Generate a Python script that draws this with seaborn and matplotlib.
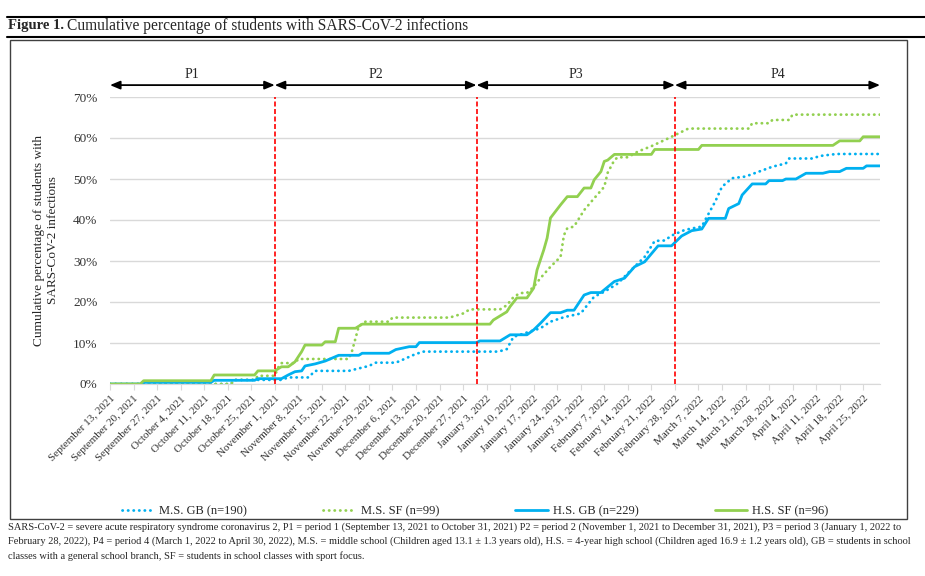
import pandas as pd
import matplotlib.pyplot as plt
from matplotlib.lines import Line2D
from matplotlib.patches import Rectangle
import seaborn as sns

# Cumulative % of students infected (breakpoints)
ms_gb_dates = ["2021-09-13", "2021-10-19", "2021-10-20", "2021-11-03", "2021-11-05", "2021-11-11",
               "2021-11-13", "2021-11-23", "2021-11-26", "2021-11-29", "2021-12-01", "2021-12-07",
               "2021-12-09", "2021-12-12", "2021-12-15", "2022-01-06", "2022-01-08", "2022-01-09",
               "2022-01-11", "2022-01-14", "2022-01-19", "2022-01-22", "2022-01-26", "2022-01-31",
               "2022-02-02", "2022-02-04", "2022-02-07", "2022-02-11", "2022-02-14", "2022-02-16",
               "2022-02-19", "2022-02-22", "2022-02-25", "2022-02-27", "2022-03-03", "2022-03-08",
               "2022-03-09", "2022-03-12", "2022-03-14", "2022-03-17", "2022-03-21", "2022-03-25",
               "2022-03-29", "2022-04-02", "2022-04-03", "2022-04-10", "2022-04-12", "2022-04-17",
               "2022-04-30"]
ms_gb_vals = [0, 0, 1.0, 1.0, 1.6, 1.6,
              3.2, 3.2, 3.8, 4.4, 5.2, 5.2,
              5.9, 7.0, 7.9, 7.9, 8.2, 8.5,
              11.5, 12.3, 13.6, 15.2, 16.3, 17.2,
              19.3, 21.3, 22.5, 24.5, 27.0, 28.6,
              31.0, 34.9, 35.0, 36.2, 37.6, 38.4,
              40.0, 44.5, 48.1, 50.2, 50.6, 51.8,
              53.0, 53.8, 55.0, 55.0, 55.6, 56.1,
              56.1]

ms_sf_dates = ["2021-09-13", "2021-10-19", "2021-10-20", "2021-10-26", "2021-10-27", "2021-11-01",
               "2021-11-02", "2021-11-03", "2021-11-07", "2021-11-08", "2021-11-23", "2021-11-24",
               "2021-11-25", "2021-11-26", "2021-11-28", "2021-12-05", "2021-12-06", "2021-12-23",
               "2021-12-27", "2021-12-29", "2022-01-07", "2022-01-09", "2022-01-11", "2022-01-13",
               "2022-01-15", "2022-01-17", "2022-01-19", "2022-01-22", "2022-01-25", "2022-01-26",
               "2022-01-27", "2022-01-29", "2022-02-01", "2022-02-04", "2022-02-07", "2022-02-08",
               "2022-02-10", "2022-02-11", "2022-02-14", "2022-02-17", "2022-02-21", "2022-02-26",
               "2022-03-01", "2022-03-04", "2022-03-22", "2022-03-23", "2022-03-28", "2022-03-29",
               "2022-04-03", "2022-04-04", "2022-04-30"]
ms_sf_vals = [0, 0, 1.0, 1.0, 2.0, 2.0,
              4.0, 5.1, 5.1, 6.1, 6.1, 8.1,
              11.1, 14.1, 15.2, 15.2, 16.2, 16.2,
              17.2, 18.2, 18.2, 19.2, 21.2, 22.2,
              22.2, 23.7, 25.8, 28.6, 31.0, 36.3,
              38.0, 38.4, 42.4, 45.3, 48.1, 51.5,
              54.6, 55.3, 55.3, 56.7, 58.0, 59.9,
              61.1, 62.3, 62.3, 63.6, 63.6, 64.4,
              64.4, 65.7, 65.7]

hs_gb_dates = ["2021-09-13", "2021-09-22", "2021-09-23", "2021-10-13", "2021-10-14", "2021-10-26",
               "2021-10-27", "2021-11-03", "2021-11-05", "2021-11-07", "2021-11-09", "2021-11-10",
               "2021-11-13", "2021-11-16", "2021-11-18", "2021-11-20", "2021-11-26", "2021-11-27",
               "2021-12-05", "2021-12-07", "2021-12-11", "2021-12-13", "2021-12-14", "2021-12-31",
               "2022-01-01", "2022-01-07", "2022-01-10", "2022-01-15", "2022-01-17", "2022-01-19",
               "2022-01-22", "2022-01-25", "2022-01-27", "2022-01-29", "2022-02-01", "2022-02-03",
               "2022-02-06", "2022-02-10", "2022-02-13", "2022-02-16", "2022-02-19", "2022-02-23",
               "2022-02-27", "2022-03-02", "2022-03-05", "2022-03-08", "2022-03-10", "2022-03-15",
               "2022-03-16", "2022-03-19", "2022-03-20", "2022-03-23", "2022-03-27", "2022-03-28",
               "2022-04-01", "2022-04-02", "2022-04-05", "2022-04-08", "2022-04-13", "2022-04-15",
               "2022-04-18", "2022-04-20", "2022-04-25", "2022-04-26", "2022-04-30"]
hs_gb_vals = [0, 0, 0.4, 0.4, 0.9, 0.9,
              1.3, 1.3, 2.2, 3.0, 3.2, 4.4,
              4.9, 5.6, 6.3, 7.0, 7.0, 7.5,
              7.5, 8.4, 9.1, 9.1, 10.1, 10.1,
              10.5, 10.5, 12.0, 12.0, 13.2, 14.8,
              17.4, 17.4, 18.0, 18.0, 21.7, 22.3,
              22.3, 25.0, 25.8, 28.6, 29.8, 33.7,
              33.7, 36.1, 37.4, 37.8, 40.4, 40.4,
              42.8, 44.0, 46.1, 48.8, 48.8, 49.6,
              49.6, 50.0, 50.0, 51.4, 51.4, 51.8,
              51.8, 52.6, 52.6, 53.2, 53.2]

hs_sf_dates = ["2021-09-13", "2021-09-22", "2021-09-23", "2021-10-13", "2021-10-14", "2021-10-26",
               "2021-10-27", "2021-11-01", "2021-11-03", "2021-11-05", "2021-11-07", "2021-11-09",
               "2021-11-10", "2021-11-15", "2021-11-16", "2021-11-19", "2021-11-20", "2021-11-25",
               "2021-11-27", "2022-01-04", "2022-01-05", "2022-01-07", "2022-01-09", "2022-01-10",
               "2022-01-12", "2022-01-15", "2022-01-17", "2022-01-18", "2022-01-20", "2022-01-21",
               "2022-01-22", "2022-01-25", "2022-01-27", "2022-01-30", "2022-02-01", "2022-02-03",
               "2022-02-04", "2022-02-06", "2022-02-07", "2022-02-08", "2022-02-10", "2022-02-21",
               "2022-02-22", "2022-03-07", "2022-03-08", "2022-04-16", "2022-04-18", "2022-04-24",
               "2022-04-25", "2022-04-30"]
hs_sf_vals = [0, 0, 0.8, 0.8, 2.2, 2.2,
              3.2, 3.2, 4.2, 4.2, 5.4, 7.9,
              9.5, 9.5, 10.3, 10.3, 13.6, 13.6,
              14.6, 14.6, 15.6, 16.6, 17.6, 18.9,
              21.0, 21.0, 23.4, 27.8, 32.7, 35.6,
              40.5, 43.7, 45.7, 45.7, 47.8, 47.8,
              49.8, 51.8, 54.3, 54.6, 56.0, 56.0,
              57.2, 57.2, 58.2, 58.2, 59.3, 59.3,
              60.3, 60.3]

period_names = ["P1", "P2", "P3", "P4"]
period_bounds = ["2021-09-13", "2021-11-01", "2021-12-31", "2022-02-28", "2022-04-30"]

BLUE = "#00B0F0"
GREEN = "#92D050"
DOTS = (0, (0.1, 1.9))

sns.set_style("white")
plt.rcParams['font.family'] = ['Liberation Serif', 'DejaVu Serif']

W, H = 925, 576
fig = plt.figure(figsize=(W / 100, H / 100), dpi=100)
ax = fig.add_axes([110 / W, 1 - 384 / H, 770 / W, (384 - 97) / H])

series = [
    ("M.S. GB (n=190)", ms_gb_dates, ms_gb_vals, BLUE, DOTS),
    ("M.S. SF (n=99)", ms_sf_dates, ms_sf_vals, GREEN, DOTS),
    ("H.S. GB (n=229)", hs_gb_dates, hs_gb_vals, BLUE, "-"),
    ("H.S. SF (n=96)", hs_sf_dates, hs_sf_vals, GREEN, "-"),
]
handles = []
for label, d, v, c, ls in series:
    sns.lineplot(x=pd.to_datetime(d), y=v, ax=ax, color=c, lw=2.0, linestyle=ls,
                 dash_capstyle='round', solid_joinstyle='round')
    handles.append(Line2D([], [], color=c, lw=2.0, linestyle=ls, dash_capstyle='round'))

start, end = pd.Timestamp(period_bounds[0]), pd.Timestamp(period_bounds[-1])
ax.set_xlim(start, end)
ax.set_ylim(0, 70)

ticks = pd.date_range("2021-09-13", "2022-04-25", freq="7D")
ax.set_xticks(ticks)
ax.set_xticklabels([f"{t:%B} {t.day}, {t.year}" for t in ticks], rotation=45, ha='right',
                   rotation_mode='anchor', fontsize=8, color='#333333')
ax.set_yticks(range(0, 71, 10))
ax.set_yticklabels([f"{v}%" for v in range(0, 71, 10)], fontsize=9.5, color='#333333')
ax.set_xlabel("")
ax.set_ylabel("")
ax.yaxis.grid(True, color='#d9d9d9', lw=1)
ax.xaxis.grid(False)
for s in ["top", "right", "left"]:
    ax.spines[s].set_visible(False)
ax.spines["bottom"].set_color('#d9d9d9')
ax.tick_params(axis='x', bottom=True, length=4, color='#d9d9d9', pad=3)
ax.tick_params(axis='y', left=False, length=0, pad=9)

# period boundaries and arrows
for b in period_bounds[1:-1]:
    ax.axvline(pd.Timestamp(b), color='#FF0000', lw=1.2, ls=(0, (3, 1.5)), zorder=5)
for i, name in enumerate(period_names):
    a, b = pd.Timestamp(period_bounds[i]), pd.Timestamp(period_bounds[i + 1])
    ax.annotate('', xy=(b, 72.9), xytext=(a, 72.9), annotation_clip=False,
                arrowprops=dict(arrowstyle='<|-|>,head_length=0.6,head_width=0.25',
                                color='black', lw=1.3, shrinkA=0, shrinkB=0))
    ax.text(a + (b - a) / 2, 75.4, name, ha='center', va='center', fontsize=10, clip_on=False)

fig.text(46 / W, 1 - 240 / H, "Cumulative percentage of students with\nSARS-CoV-2 infections",
         rotation=90, ha='center', va='center', fontsize=9.5, multialignment='center')

fig.legend(handles, [s[0] for s in series], loc='center', bbox_to_anchor=(475 / W, 1 - 511 / H),
           ncol=4, frameon=False, fontsize=9, handlelength=2.6, handletextpad=0.4,
           columnspacing=6.1)

# frame and title rules
fig.patches.append(Rectangle((10 / W, 1 - 519 / H), 897 / W, 479 / H, transform=fig.transFigure,
                             fill=False, ec='#404040', lw=1))
fig.add_artist(Line2D([7 / W, 1], [1 - 17 / H] * 2, color='black', lw=1.5))
fig.add_artist(Line2D([7 / W, 1], [1 - 37 / H] * 2, color='black', lw=1.5))

t1 = fig.text(8 / W, 1 - 26 / H, "Figure 1.", fontweight='bold', fontsize=10.5, va='center')
bb = t1.get_window_extent(renderer=fig.canvas.get_renderer())
fig.text(bb.x1 / W + 3 / W, 1 - 26 / H, "Cumulative percentage of students with SARS-CoV-2 infections",
         fontsize=11.2, va='center')

notes = [
    "SARS-CoV-2 = severe acute respiratory syndrome coronavirus 2, P1 = period 1 (September 13, 2021 to October 31, 2021) "
    "P2 = period 2 (November 1, 2021 to December 31, 2021), P3 = period 3 (January 1, 2022 to",
    "February 28, 2022), P4 = period 4 (March 1, 2022 to April 30, 2022), M.S. = middle school (Children aged 13.1 \u00b1 1.3 years old), "
    "H.S. = 4-year high school (Children aged 16.9 \u00b1 1.2 years old), GB = students in school",
    "classes with a general school branch, SF = students in school classes with sport focus.",
]
for i, line in enumerate(notes):
    fig.text(8 / W, 1 - (527 + 14.5 * i) / H, line, fontsize=7.5, va='center')

fig.savefig("out.png", dpi=100)
